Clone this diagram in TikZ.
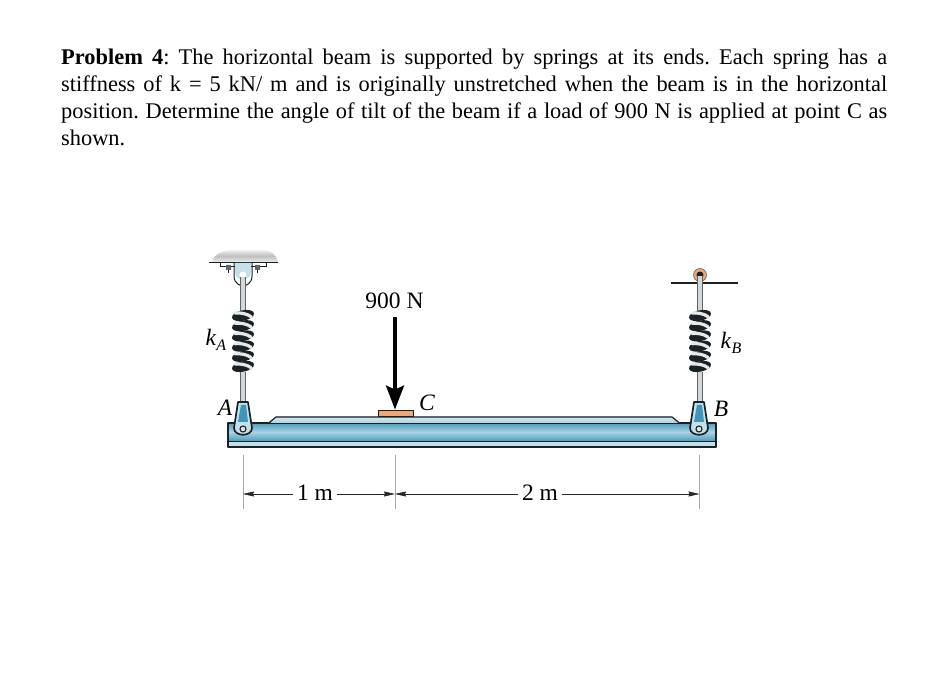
\documentclass[tikz,border=0pt]{standalone}
\usepackage{fontspec}
\setmainfont{Liberation Serif}
\usetikzlibrary{arrows.meta}
\definecolor{ink}{HTML}{1A2226}
\definecolor{beamtop}{HTML}{4C9DBC}
\definecolor{beammid}{HTML}{A9D3E2}
\definecolor{beamlow}{HTML}{3F96B6}
\definecolor{padc}{HTML}{EFA874}
\definecolor{rodc}{HTML}{B9BEC2}
\definecolor{ticks}{HTML}{A8A8A8}
\tikzset{
  px/.style={x=1pt,y=-1pt},
  outl/.style={draw=ink,line width=1.7pt,line join=round},
  dimline/.style={draw=black!85,line width=0.6pt},
  dimtip/.style={-{Stealth[length=11pt,width=5pt,inset=1pt]}},
  tick/.style={draw=ticks,line width=1pt},
  lbl/.style={inner sep=0pt,font=\fontsize{23.5}{26}\selectfont},
  dimlbl/.style={inner sep=4pt,font=\fontsize{23.5}{26}\selectfont},
  para/.style={inner sep=0pt,anchor=north west,text width=826pt,align=justify,
    font=\fontsize{22.4}{27}\selectfont},
  rodout/.style={draw=ink!70,line width=6pt},
  rodin/.style={draw=rodc!60!white,line width=3.8pt},
}
\newcommand{\coilset}[1]{%
  \foreach \i in {0,...,5}{%
    \pgfmathsetmacro{\yy}{315.5+\i*10.2}
    \fill[ink,rotate around={12:(#1,\yy)}] (#1,\yy) ellipse[x radius=11.2,y radius=5.2];
    \draw[rodc!35!white,line width=3.2pt,line cap=round] (#1-8,\yy-2.4) .. controls (#1-3,\yy-3) and (#1+4,\yy-2) .. (#1+8,\yy+1.2);
  }%
}
\newcommand{\lug}[1]{%
  \fill[beammid!70!white,outl] (#1-5,402) -- (#1+5,402) -- (#1+9,428)
     .. controls (#1+9,437) and (#1-9,437) .. (#1-9,428) -- cycle;
  \fill[beamlow] (#1-2,405) -- (#1+3,405) -- (#1+5,422) -- (#1-5,422) -- cycle;
  \draw[ink,line width=1.1pt,fill=white!90!black] (#1,429) circle[radius=3];
}
\begin{document}
\begin{tikzpicture}[px]
\useasboundingbox (0,0) rectangle (943,692);
\fill[white] (0,0) rectangle (943,692);

% problem statement
\node[para] (statement) at (61,49) {\frenchspacing\textbf{Problem 4}: The horizontal beam is supported by springs at its ends. Each spring has a\linebreak
stiffness of k = 5 kN/ m and is originally unstretched when the beam is in the horizontal\linebreak
position. Determine the angle of tilt of the beam if a load of 900 N is applied at point C as\linebreak
shown.};

% ceiling A
\shade[top color=black!6,bottom color=green!10!black!8,middle color=black!25] (212,262) .. controls (214,254) and (222,250) .. (235,250)
  -- (262,250) .. controls (272,250) and (277,256) .. (278,262) -- cycle;
\draw[ink,line width=1.2pt] (209,262.5) -- (278,262.5);
% bracket A
\fill[beammid!70!white] (235,263) -- (251,263) -- (251,272) .. controls (251,282) and (235,282) .. (235,272) -- cycle;
\draw[ink,line width=1pt] (220,263) -- (220,266.5) -- (235,266.5) (251,266.5) -- (266,266.5) -- (266,263);
\draw[ink,line width=1pt] (234,263) -- (234,276) .. controls (234,284) and (241,286) .. (243,286) .. controls (245,286) and (252,284) .. (252,276) -- (252,263);
\fill[white] (243,275) circle[radius=3.5];
\fill[ink!70] (226,265) rectangle (231,270) (255,265) rectangle (260,270);
\draw[ink,line width=1pt] (228.5,270) -- (228.5,273) (257.5,270) -- (257.5,273);

% right pivot
\fill[padc] (700,275) circle[radius=6.5];
\draw[ink!70,line width=0.6pt] (700,275) circle[radius=6.5];
\draw[ink,line width=1.2pt] (671,283) -- (738,283);
\fill[ink] (700,275) circle[radius=3.5];

% rods
\foreach \rx/\ra/\rb in {243/277/312, 243/372/404, 700/276/312, 700/372/404}{
  \draw[rodout] (\rx,\ra) -- (\rx,\rb);
  \draw[rodin] (\rx,\ra) -- (\rx,\rb);
}
\coilset{243}
\coilset{700}

% beam
\fill[top color=beamtop,bottom color=beamtop,middle color=beammid] (228,423) rectangle (716,441);
\fill[beammid!70!white] (228,441) rectangle (716,447);
\draw[ink,line width=1.2pt] (228,441.5) -- (716,441.5);
\draw[outl] (228,423) rectangle (716,447);
% top plate
\fill[top color=beammid!50!white,bottom color=beammid] (270,423) -- (276,417) -- (672,417) -- (680,423) -- cycle;
\draw[ink,line width=1.2pt] (268,423.5) -- (276,417) -- (672,417) -- (680,423.5);
\draw[ink,line width=1.4pt] (268,423.5) -- (680,423.5);

\lug{243}
\lug{699}

% load pad and arrow
\node[draw=ink,line width=1.4pt,fill=padc,minimum width=35pt,minimum height=6.5pt,inner sep=0pt] (pad) at (396,413.5) {};
\node[lbl] (load) at (394.5,301) {900 N};
\coordinate (shafttop) at (395,317);
\draw[-{Stealth[length=24pt,width=18pt,inset=4pt]},line width=3.2pt,draw=black,fill=black] (shafttop) -- (pad.north -| shafttop);

% labels
\node[lbl] (ka) at (216,340) {\textit{k}\raisebox{-5pt}{\fontsize{16}{16}\selectfont\textit{A}}};
\node[lbl] (kb) at (731,343) {\textit{k}\raisebox{-5pt}{\fontsize{16}{16}\selectfont\textit{B}}};
\node[lbl] (la) at (225,408) {\textit{A}};
\node[lbl] (lb) at (721,409) {\textit{B}};
\node[lbl] (lc) at (427,403) {\textit{C}};

% dimensions
\coordinate (ta1) at (243,455); \coordinate (ta2) at (243,509);
\coordinate (tc1) at (395,455); \coordinate (tc2) at (395,509);
\coordinate (tb1) at (699.5,455); \coordinate (tb2) at (699.5,509);
\draw[tick] (ta1) -- (ta2);
\draw[tick] (tc1) -- (tc2);
\draw[tick] (tb1) -- (tb2);
\coordinate (da) at (243,494); \coordinate (dc) at (395,494); \coordinate (db) at (699.5,494);
\node[dimlbl,anchor=center] (one) at (315,493) {1 m};
\node[dimlbl,anchor=center] (two) at (540,493) {2 m};
\draw[dimline,dimtip] (one.west |- da) -- (da);
\draw[dimline,dimtip] (one.east |- dc) -- (dc);
\draw[dimline,dimtip] (two.west |- dc) -- (dc);
\draw[dimline,dimtip] (two.east |- db) -- (db);
\end{tikzpicture}
\end{document}
